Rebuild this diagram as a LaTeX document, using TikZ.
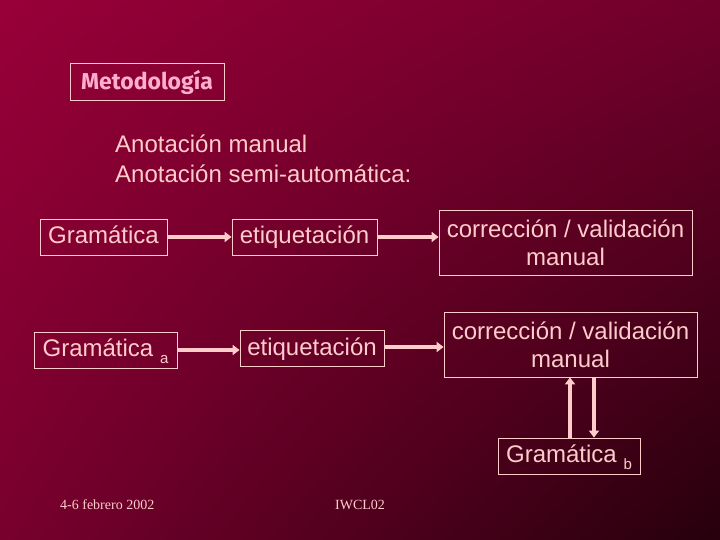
\documentclass[tikz,border=0pt]{standalone}
\usepackage{fontspec}
\setmainfont{Liberation Sans}
\newfontfamily\timesfont{Liberation Serif}
\newfontfamily\titlefont{Fira Sans}
\usepackage{tikz}
\usetikzlibrary{arrows.meta, shadings}

\definecolor{rosa}{RGB}{255,204,204}
\definecolor{rosatit}{RGB}{255,175,205}
\definecolor{fondoA}{RGB}{152,0,56}
\definecolor{fondoB}{RGB}{112,0,42}
\definecolor{fondoC}{RGB}{120,0,45}
\definecolor{fondoD}{RGB}{38,0,12}

\tikzset{
    caja/.style={draw=rosa, line width=0.8pt, text=rosa, inner sep=0pt,
        font=\fontsize{24}{28}\selectfont},
    cajauna/.style={caja, text height=18pt, text depth=5pt},
    cajados/.style={caja, align=center},
    flecha/.style={draw=rosa, line width=3.5pt, -{Triangle[length=7pt,width=10pt]}},
    texto/.style={text=rosa, inner sep=0pt, anchor=base west}
}
\newcommand{\subi}[1]{{\fontsize{15}{15}\selectfont\raisebox{-7pt}{#1}}}

\begin{document}
\begin{tikzpicture}[x=1pt, y=-1pt]
    % fondo
    \shade[upper left=fondoA, upper right=fondoB, lower left=fondoC, lower right=fondoD]
        (0,0) rectangle (720,540);
    \useasboundingbox (0,0) rectangle (720,540);

    % titulo
    \node[draw=rosa, line width=0.8pt, text=rosatit, inner sep=0pt,
        minimum width=154pt, minimum height=37pt,
        font=\titlefont\bfseries\fontsize{23}{26}\selectfont] (metod) at (147,82) {Metodología};

    \node[texto, font=\fontsize{24}{28}\selectfont] (anot1) at (115,152.5) {Anotación manual};
    \node[texto, font=\fontsize{24}{28}\selectfont] (anot2) at (115,182.5) {Anotación semi-automática:};

    % fila 1
    \node[cajauna, minimum width=127pt, minimum height=36pt] (gram) at (103.5,237) {Gramática};
    \node[cajauna, minimum width=145pt, minimum height=36pt] (etiq) at (304.5,237) {etiquetación};
    \node[cajados, minimum width=253pt, minimum height=65pt] (corr) at (565.5,242.5)
        {corrección / validación\\manual};

    % fila 2
    \node[cajauna, minimum width=143pt, minimum height=36pt] (grama) at (105.5,350) {Gramática \subi{a}};
    \node[cajauna, minimum width=144pt, minimum height=36pt] (etiqa) at (312,348.5) {etiquetación};
    \node[cajados, minimum width=253pt, minimum height=65pt] (corra) at (570.5,344.5)
        {corrección / validación\\manual};
    \node[cajauna, minimum width=142pt, minimum height=36pt] (gramb) at (569,456) {Gramática \subi{b}};

    % flechas
    \draw[flecha] ([xshift=1pt]gram.east) -- (gram -| etiq.west);
    \draw[flecha] (etiq.east) -- (etiq -| corr.west);
    \draw[flecha] (grama.east) -- (grama -| etiqa.west);
    \draw[flecha] ([yshift=1.5pt]etiqa.east) -- ([yshift=1.5pt]etiqa.east -| corra.west);
    \draw[flecha] ([xshift=1pt]gramb.north) -- ([xshift=1pt]gramb.north |- corra.south);
    \draw[flecha] ([xshift=25pt]gramb.north |- corra.south) -- ([xshift=25pt]gramb.north);

    % pie
    \node[texto, font=\timesfont\fontsize{14}{16}\selectfont] (fecha) at (60,509) {4-6 febrero 2002};
    \node[texto, font=\timesfont\fontsize{14}{16}\selectfont] (conf) at (335,509) {IWCL02};
\end{tikzpicture}
\end{document}
